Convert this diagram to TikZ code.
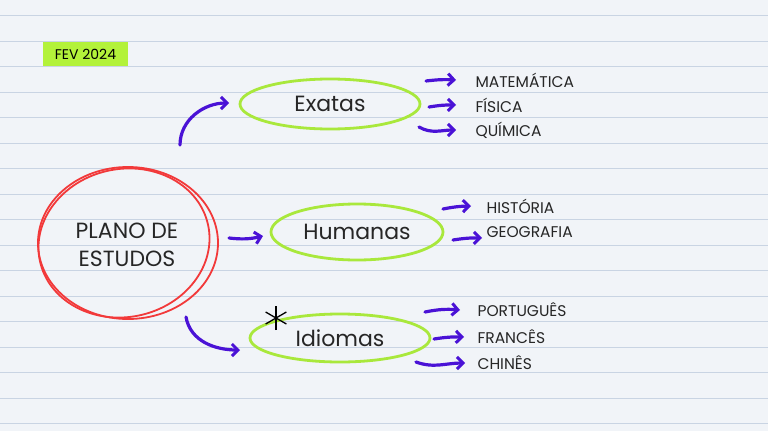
\documentclass[tikz,border=0pt]{standalone}
\usepackage{fontspec}
\setmainfont{Poppins}
\usetikzlibrary{arrows.meta,shapes.geometric,calc}
\definecolor{paper}{HTML}{F1F4F8}
\definecolor{rule}{HTML}{C9D4E3}
\definecolor{lime}{HTML}{A9E83C}
\definecolor{limebox}{HTML}{B3F23A}
\definecolor{pur}{HTML}{4A12D6}
\definecolor{redc}{HTML}{F2393A}
\tikzset{
 arr/.style={pur,line width=3.2pt,line cap=round,-{Straight Barb[length=6pt,width=12pt,line width=3pt]}},
 oval/.style={draw=lime,line width=2.8pt,ellipse},
 lab/.style={anchor=west,font=\fontsize{15.5}{16}\selectfont,text=black!85},
 big/.style={font=\fontsize{22}{28}\selectfont,text=black!85}
}
\begin{document}
\begin{tikzpicture}[x=1pt,y=-1pt]
\fill[paper] (0,0) rectangle (768,431);
\useasboundingbox (0,0) rectangle (768,431);
\foreach \y in {15.5,41,66.5,92,117.5,143,168.5,194,219.5,245,270.5,296,321.5,347,372.5,398,423.5}
  \draw[rule,line width=1pt] (0,\y) -- (768,\y);
\node[fill=limebox,minimum width=85pt,minimum height=24pt,inner sep=0,font=\fontsize{14}{15}\selectfont] (fev) at (85.5,54) {FEV 2024};
% central
\node[big,align=center] (plano) at (127,245) {PLANO DE\\ESTUDOS};
\draw[redc,line width=1.8pt] (128,243) ellipse (90 and 76);
\draw[redc,line width=1.8pt,rotate around={12:(124,243)}] (124,243) ellipse (86 and 74);
% groups
\node[oval,minimum width=180pt,minimum height=50pt,big] (ex) at (330,104) {Exatas};
\node[oval,minimum width=172pt,minimum height=56pt,big] (hu) at (357,232) {Humanas};
\node[oval,minimum width=180pt,minimum height=48pt,big] (id) at (340,338) {Idiomas};
\coordinate (ast) at (276,318);
\foreach \a in {90,30,150} \draw[black,line width=1.3pt] ($(ast)+(\a:12)$) -- ($(ast)+(\a+180:12)$);
\coordinate (a1s) at (180,145); \coordinate (a1e) at (229,103);
\draw[arr] (a1s) to[out=90,in=180] (a1e);
\coordinate (a2s) at (229,238); \coordinate (a2e) at (263,236);
\draw[arr] (a2s) to[bend right=10] (a2e);
\coordinate (a3s) at (186,317); \coordinate (a3e) at (240,350);
\draw[arr] (a3s) to[out=-80,in=180] (a3e);
% leaves
\node[lab] (m) at (472,80) {MATEMÁTICA};
\node[lab] (f) at (472,105) {FÍSICA};
\node[lab] (q) at (472,130) {QUÍMICA};
\node[lab] (h) at (483,206) {HISTÓRIA};
\node[lab] (g) at (483,232) {GEOGRAFIA};
\node[lab] (p) at (474,310) {PORTUGUÊS};
\node[lab] (fr) at (474,337) {FRANCÊS};
\node[lab] (c) at (474,363) {CHINÊS};
\coordinate (ge) at (482,238);
\draw[arr] (426,81) to[bend left=5] ([xshift=-16pt]m.west);
\draw[arr] (429,107) to[bend left=5] ([xshift=-16pt]f.west);
\draw[arr] (419,127) to[out=-30,in=180] ([xshift=-16pt]q.west);
\draw[arr] (443,209) to[bend left=5] ([xshift=-12pt]h.west);
\draw[arr] (453,240) to[bend left=5] (ge);
\draw[arr] (425,312) to[bend left=8] ([xshift=-14pt]p.west);
\draw[arr] (434,339) to[bend left=5] ([xshift=-10pt]fr.west);
\draw[arr] (416,362) to[out=-20,in=180] ([xshift=-9pt]c.west);
\end{tikzpicture}
\end{document}
